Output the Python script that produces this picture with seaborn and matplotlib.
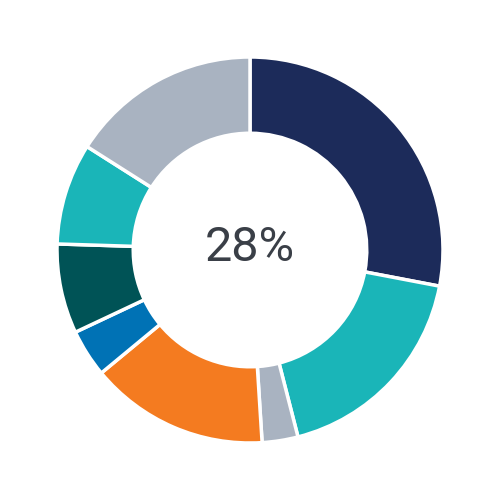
import matplotlib
matplotlib.use("Agg")
import matplotlib.pyplot as plt
import seaborn as sns

# === DATA ===
segments = ["A", "B", "C", "D", "E", "F", "G", "H"]
shares = [28, 18, 3, 15, 4, 7.5, 8.5, 16]
colors = ["#1c2b5a", "#1ab5b8", "#a9b3c1", "#f47b20",
          "#0072b5", "#005356", "#1ab5b8", "#a9b3c1"]
center_label = "28%"

# === STYLE ===
sns.set_theme(style="white")
plt.rcParams["font.family"] = ["Roboto", "DejaVu Sans"]

fig = plt.figure(figsize=(5, 5), dpi=100)
ax = fig.add_axes([0, 0, 1, 1])

ax.pie(shares, colors=colors, startangle=90, counterclock=False,
       radius=1.0,
       wedgeprops=dict(width=0.395, edgecolor="white", linewidth=2.5))
ax.text(0, 0.01, center_label, ha="center", va="center",
        fontsize=35, color="#3a3f47", fontweight="normal")

lim = 250 / 193
ax.set_xlim(-lim, lim)
ax.set_ylim(-lim, lim)
ax.set_aspect("equal")
ax.axis("off")

fig.savefig("out.png", dpi=100, facecolor="white")
